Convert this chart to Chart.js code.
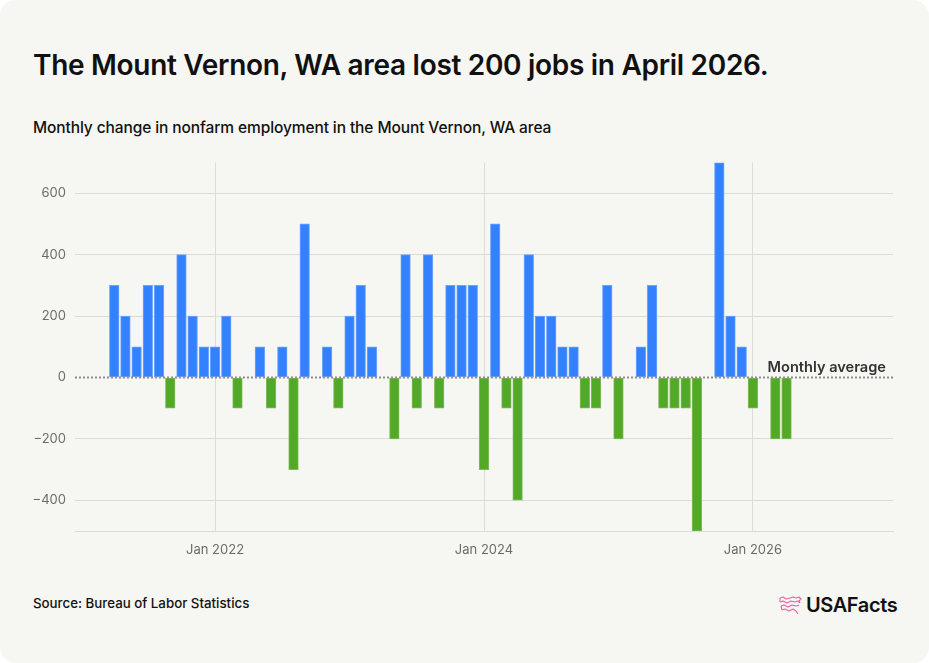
<!DOCTYPE html>
<html>
<head>
<meta charset="utf-8">
<script src="https://cdn.jsdelivr.net/npm/chart.js@4/dist/chart.umd.min.js"></script>
<style>
  html, body { margin: 0; padding: 0; background: #ffffff; }
  .card {
    position: relative;
    width: 929px; height: 663px;
    background: #f6f6f2;
    border-radius: 16px;
    overflow: hidden;
    font-family: Inter, "Noto Sans", sans-serif;
  }
  h1 {
    position: absolute; left: 33px; top: 48px; margin: 0;
    font-size: 28px; font-weight: 600; letter-spacing: -0.3px; color: #111;
  }
  .subtitle {
    position: absolute; left: 33px; top: 118px;
    font-size: 15.5px; font-weight: 500; letter-spacing: -0.1px; color: #111;
  }
  .chart-box { position: absolute; left: 24px; top: 158px; width: 880px; height: 414px; }
  .source {
    position: absolute; left: 33px; top: 595px;
    font-size: 13.3px; font-weight: 500; color: #111;
  }
  .logo {
    position: absolute; left: 779px; top: 593px;
    display: flex; align-items: center; gap: 3px;
    font-size: 20px; font-weight: 600; letter-spacing: -0.4px; color: #111;
  }
</style>
</head>
<body>
<div class="card">
  <h1>The Mount Vernon, WA area lost 200 jobs in April 2026.</h1>
  <div class="subtitle">Monthly change in nonfarm employment in the Mount Vernon, WA area</div>
  <div class="chart-box"><canvas id="chartCanvas"></canvas></div>
  <div class="source">Source: Bureau of Labor Statistics</div>
  <div class="logo">
    <svg width="24" height="20" viewBox="0 0 24 20">
      <g fill="none" stroke="#ee5fa3" stroke-width="1.1" stroke-linejoin="round">
        <path d="M1 3 L4 2 L7 4 L11 3 L14 2 L17 3 L20 2 L22 4 L20 6"/>
        <path d="M1 7 L4 6 L8 8 L12 6 L16 7 L19 6 L21 8"/>
        <path d="M2 11 L5 10 L9 12 L13 10 L17 11 L20 10"/>
        <path d="M3 15 L6 14 L10 16 L14 14 L17 16 L19 19"/>
        <path d="M1 3 L1 7 M2 11 L3 15 M20 6 L21 8"/>
      </g>
    </svg>
    <span>USAFacts</span>
  </div>
</div>
<script>
// monthly change in nonfarm jobs, Apr 2021 - Apr 2026
const months = [
  '2021-04','2021-05','2021-06','2021-07','2021-08','2021-09','2021-10','2021-11','2021-12',
  '2022-01','2022-02','2022-03','2022-04','2022-05','2022-06','2022-07','2022-08','2022-09','2022-10','2022-11','2022-12',
  '2023-01','2023-02','2023-03','2023-04','2023-05','2023-06','2023-07','2023-08','2023-09','2023-10','2023-11','2023-12',
  '2024-01','2024-02','2024-03','2024-04','2024-05','2024-06','2024-07','2024-08','2024-09','2024-10','2024-11','2024-12',
  '2025-01','2025-02','2025-03','2025-04','2025-05','2025-06','2025-07','2025-08','2025-09','2025-10','2025-11','2025-12',
  '2026-01','2026-02','2026-03','2026-04'
];
const jobChange = [
  300, 200, 100, 300, 300, -100, 400, 200, 100,
  100, 200, -100, 0, 100, -100, 100, -300, 500, 0, 100, -100,
  200, 300, 100, 0, -200, 400, -100, 400, -100, 300, 300, 300,
  -300, 500, -100, -400, 400, 200, 200, 100, 100, -100, -100, 300,
  -200, 0, 100, 300, -100, -100, -100, -500, 0, 700, 200, 100,
  -100, 0, -200, -200
];
const xTickMonths = ['2022-01', '2024-01', '2026-01'];
const xTickLabels = ['Jan 2022', 'Jan 2024', 'Jan 2026'];
const yTicks = [-400, -200, 0, 200, 400, 600];
const monthlyAverage = 0;
const averageLabel = 'Monthly average';

const gainColor = '#3381ff';
const lossColor = '#52a827';
const gridColor = '#dcdcd6';

// months counted from Jan 2021
function monthIndex(m) {
  const [y, mo] = m.split('-').map(Number);
  return (y - 2021) * 12 + (mo - 1);
}

const points = months.map((m, i) => ({ x: monthIndex(m), y: jobChange[i] }));
const tickIndexes = xTickMonths.map(monthIndex);

const averageLine = {
  id: 'averageLine',
  afterDatasetsDraw(chart) {
    const { ctx, chartArea } = chart;
    const y = chart.scales.y.getPixelForValue(monthlyAverage);
    ctx.save();
    ctx.strokeStyle = '#8e8e8a';
    ctx.lineWidth = 2;
    ctx.setLineDash([2, 2]);
    ctx.beginPath();
    ctx.moveTo(chartArea.left, y);
    ctx.lineTo(chartArea.right, y);
    ctx.stroke();
    ctx.setLineDash([]);
    ctx.fillStyle = '#333333';
    ctx.font = '600 14.6px Inter, "Noto Sans", sans-serif';
    ctx.textAlign = 'right';
    ctx.textBaseline = 'alphabetic';
    ctx.fillText(averageLabel, chartArea.right - 7, y - 5);
    ctx.restore();
  }
};

new Chart(document.getElementById('chartCanvas'), {
  type: 'bar',
  data: {
    datasets: [{
      data: points,
      backgroundColor: points.map(p => p.y >= 0 ? gainColor : lossColor),
      borderColor: points.map(p => p.y >= 0 ? '#6ea3ff' : '#7dbb5b'),
      borderWidth: 1,
      borderSkipped: false,
      barThickness: 9.6
    }]
  },
  options: {
    responsive: true,
    maintainAspectRatio: false,
    animation: false,
    layout: { padding: { top: 4.5, right: 11, left: 0, bottom: 0 } },
    plugins: { legend: { display: false }, tooltip: { enabled: false } },
    scales: {
      x: {
        type: 'linear',
        offset: false,
        min: -0.5,
        max: 72.5,
        afterBuildTicks: scale => { scale.ticks = tickIndexes.map(v => ({ value: v })); },
        afterFit: scale => { scale.height = 41; scale.paddingLeft = 0; scale.paddingRight = 0; },
        ticks: {
          callback: value => xTickLabels[tickIndexes.indexOf(value)],
          color: '#6b6b6b',
          font: { family: 'Inter', size: 13 },
          padding: 11,
          maxRotation: 0
        },
        grid: { color: gridColor, drawTicks: false, offset: false },
        border: { display: true, color: gridColor }
      },
      y: {
        min: -500,
        max: 700,
        afterBuildTicks: scale => { scale.ticks = yTicks.map(v => ({ value: v })); },
        afterFit: scale => { scale.width = 51; scale.paddingTop = 0; scale.paddingBottom = 0; },
        ticks: {
          callback: value => String(value).replace('-', '\u2212'),
          color: '#6b6b6b',
          font: { family: 'Inter', size: 13 },
          padding: 9
        },
        grid: {
          color: ctx => ctx.tick && ctx.tick.value === 0 ? 'rgba(0,0,0,0)' : gridColor,
          drawTicks: false
        },
        border: { display: false }
      }
    }
  },
  plugins: [averageLine]
});
</script>
</body>
</html>
